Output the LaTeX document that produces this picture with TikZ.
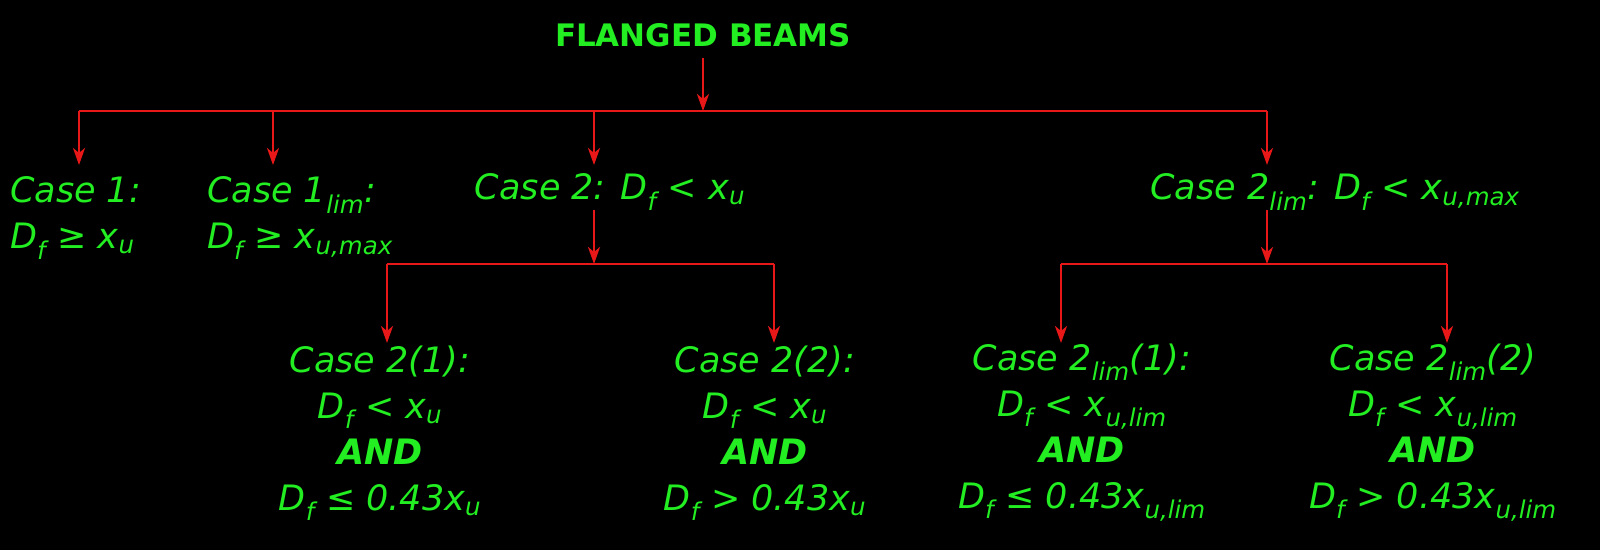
\documentclass[tikz,border=0pt]{standalone}
\usepackage{fontspec}
\setmainfont{DejaVu Sans}
\usetikzlibrary{arrows.meta}
\definecolor{tg}{HTML}{22EE22}
\definecolor{lr}{HTML}{E81818}
\begin{document}
\begin{tikzpicture}[x=1pt,y=-1pt,
  txt/.style={text=tg,font=\fontsize{35}{46}\selectfont\itshape,inner sep=0pt},
  ln/.style={draw=lr,line width=2.8pt},
  ar/.style={ln,-{Stealth[length=17pt,width=12pt,inset=5pt]}}]
\fill[black] (0,0) rectangle (1600,550);
\useasboundingbox (0,0) rectangle (1600,550);
\node[text=tg,font=\fontsize{31}{34}\selectfont\bfseries] (t) at (703,35) {FLANGED BEAMS};
\node[txt,anchor=west,align=left] (c1) at (10,218) {Case 1:\\D\textsubscript{f} ≥ x\textsubscript{u}};
\node[txt,anchor=west,align=left] (c1l) at (207,218) {Case 1\textsubscript{lim}:\\D\textsubscript{f} ≥ x\textsubscript{u,max}};
\node[txt] (c2) at (610,192) {Case 2: D\textsubscript{f} < x\textsubscript{u}};
\node[txt] (c2l) at (1335,192) {Case 2\textsubscript{lim}: D\textsubscript{f} < x\textsubscript{u,max}};
\node[txt,align=center] (a) at (380,433) {Case 2(1):\\D\textsubscript{f} < x\textsubscript{u}\\\textbf{AND}\\D\textsubscript{f} ≤ 0.43x\textsubscript{u}};
\node[txt,align=center] (b) at (765,433) {Case 2(2):\\D\textsubscript{f} < x\textsubscript{u}\\\textbf{AND}\\D\textsubscript{f} > 0.43x\textsubscript{u}};
\node[txt,align=center] (c) at (1082,433) {Case 2\textsubscript{lim}(1):\\D\textsubscript{f} < x\textsubscript{u,lim}\\\textbf{AND}\\D\textsubscript{f} ≤ 0.43x\textsubscript{u,lim}};
\node[txt,align=center] (d) at (1433,433) {Case 2\textsubscript{lim}(2)\\D\textsubscript{f} < x\textsubscript{u,lim}\\\textbf{AND}\\D\textsubscript{f} > 0.43x\textsubscript{u,lim}};
\coordinate (b0) at (703,111);
\coordinate (bl) at (79,111); \coordinate (br) at (1267,111);
\coordinate (k1) at (273,111); \coordinate (k2) at (594,111);
\draw[ar] (703,58) -- (b0);
\draw[ln] (bl) -- (br);
\draw[ar] (bl) -- (79,165);
\draw[ar] (k1) -- (273,165);
\draw[ar] (k2) -- (594,165);
\draw[ar] (br) -- (1267,165);
\coordinate (m1) at (594,264); \coordinate (m2) at (1267,264);
\draw[ar] (594,210) -- (m1);
\draw[ar] (1267,210) -- (m2);
\draw[ln] (387,264) -- (774,264);
\draw[ln] (1061,264) -- (1447,264);
\draw[ar] (387,264) -- (387,343);
\draw[ar] (774,264) -- (774,343);
\draw[ar] (1061,264) -- (1061,343);
\draw[ar] (1447,264) -- (1447,343);
\end{tikzpicture}
\end{document}
